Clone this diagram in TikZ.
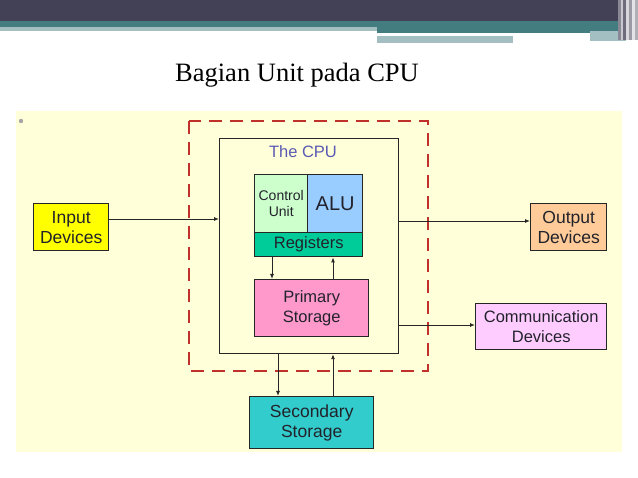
\documentclass[tikz,border=0pt]{standalone}
\usepackage{fontspec}
\setmainfont{Liberation Serif}
\newfontfamily\arialf{Liberation Sans}
\usetikzlibrary{arrows.meta}
\definecolor{barDark}{HTML}{424155}
\definecolor{barTeal}{HTML}{447D80}
\definecolor{barLight}{HTML}{A3BFC2}
\definecolor{panel}{HTML}{FFFFD9}
\definecolor{dashRed}{HTML}{C0312B}
\definecolor{txt}{HTML}{22222B}
\definecolor{cpuBlue}{HTML}{5A5AB4}
\definecolor{cuGreen}{HTML}{CCFFCC}
\definecolor{aluBlue}{HTML}{99CCFF}
\definecolor{regGreen}{HTML}{00CC99}
\definecolor{primPink}{HTML}{FF99CC}
\definecolor{inYellow}{HTML}{FFFF00}
\definecolor{outPeach}{HTML}{FFCC99}
\definecolor{comPink}{HTML}{FFCCFF}
\definecolor{secTeal}{HTML}{33CCCC}
\tikzset{
  blk/.style={draw=black!85, line width=1.4pt, inner sep=0pt, align=center, font=\arialf\fontsize{16}{17}\selectfont, text=txt},
  conn/.style={draw=black!85, line width=0.9pt},
  arr/.style={conn, -{Latex[length=5pt,width=4pt]}}
}
\begin{document}
\begin{tikzpicture}[x=1pt,y=-1pt]
\useasboundingbox (0,0) rectangle (638,478);
\fill[white] (0,0) rectangle (638,478);
% top bar
\fill[barDark] (0,0) rectangle (618,21);
\fill[barTeal] (0,21) rectangle (618,27);
\fill[barLight] (0,27) rectangle (377,31);
\fill[barTeal] (377,27) rectangle (618,33);
\fill[barLight] (377,36) rectangle (513,43);
\fill[barLight] (590,31) rectangle (626,41);
\foreach \xx/\cc in {618/8A8894,621/C9C8CE,623/6E6C7C,626/D8D7DC,629/9A99A4,632/E4E3E8,635/B0AFB8}
  {\definecolor{tmpc}{HTML}{\cc}\fill[tmpc] (\xx,0) rectangle ++(3,40);}
% title
\node[font=\fontsize{26.5}{28}\selectfont, text=black, anchor=base] (title) at (297,82) {Bagian Unit pada CPU};
% panel
\fill[panel] (16,111) rectangle (622,452);
\fill[black!35] (21,121) circle (2.2);
% dashed red boundary
\draw[dashRed, line width=2.4pt, dash pattern=on 13pt off 8pt] (189,121) rectangle (428,371);
% CPU box
\node[draw=black!85, line width=1.2pt, minimum width=179pt, minimum height=215pt, anchor=north west, inner sep=0pt] (cpu) at (219,138) {};
\node[font=\arialf\fontsize{16.5}{17}\selectfont, text=cpuBlue] (cpulabel) at (303,152) {The CPU};
\node[blk, fill=cuGreen, minimum width=53pt, minimum height=58pt, anchor=north west, font=\arialf\fontsize{14}{16}\selectfont] (cu) at (254,174) {Control\\Unit};
\node[blk, fill=aluBlue, minimum width=55pt, minimum height=58pt, anchor=north west, font=\arialf\fontsize{20}{21}\selectfont] (alu) at (307,174) {ALU};
\node[blk, fill=regGreen, minimum width=108pt, minimum height=24pt, anchor=north west, font=\arialf\fontsize{16.5}{17}\selectfont] (reg) at (254,232) {Registers};
\node[blk, fill=primPink, minimum width=114pt, minimum height=57pt, anchor=north west, font=\arialf\fontsize{16.5}{20}\selectfont] (prim) at (254,279) {Primary\\Storage};
% outer devices
\node[blk, fill=inYellow, minimum width=75pt, minimum height=47pt, anchor=north west, font=\arialf\fontsize{17.5}{20}\selectfont] (in) at (33,203) {Input\\Devices};
\node[blk, fill=outPeach, minimum width=76pt, minimum height=47pt, anchor=north west, font=\arialf\fontsize{17.5}{20}\selectfont] (out) at (530,203) {Output\\Devices};
\node[blk, fill=comPink, minimum width=131pt, minimum height=46pt, anchor=north west, font=\arialf\fontsize{16.5}{20}\selectfont] (com) at (475,303) {Communication\\Devices};
\node[blk, fill=secTeal, minimum width=124pt, minimum height=52pt, anchor=north west, font=\arialf\fontsize{17.5}{20}\selectfont] (sec) at (249,396) {Secondary\\Storage};
% connectors
\draw[arr] (in.east |- 0,219) -- (cpu.west |- 0,219);
\draw[arr] (cpu.east |- 0,221) -- (out.west |- 0,221);
\draw[arr] (cpu.east |- 0,325) -- (com.west |- 0,325);
\draw[arr] (reg.south -| 272,0) -- (prim.north -| 272,0);
\draw[arr] (prim.north -| 333,0) -- (reg.south -| 333,0);
\draw[arr] (cpu.south -| 278,0) -- (sec.north -| 278,0);
\draw[arr] (sec.north -| 333,0) -- (cpu.south -| 333,0);
\end{tikzpicture}
\end{document}
